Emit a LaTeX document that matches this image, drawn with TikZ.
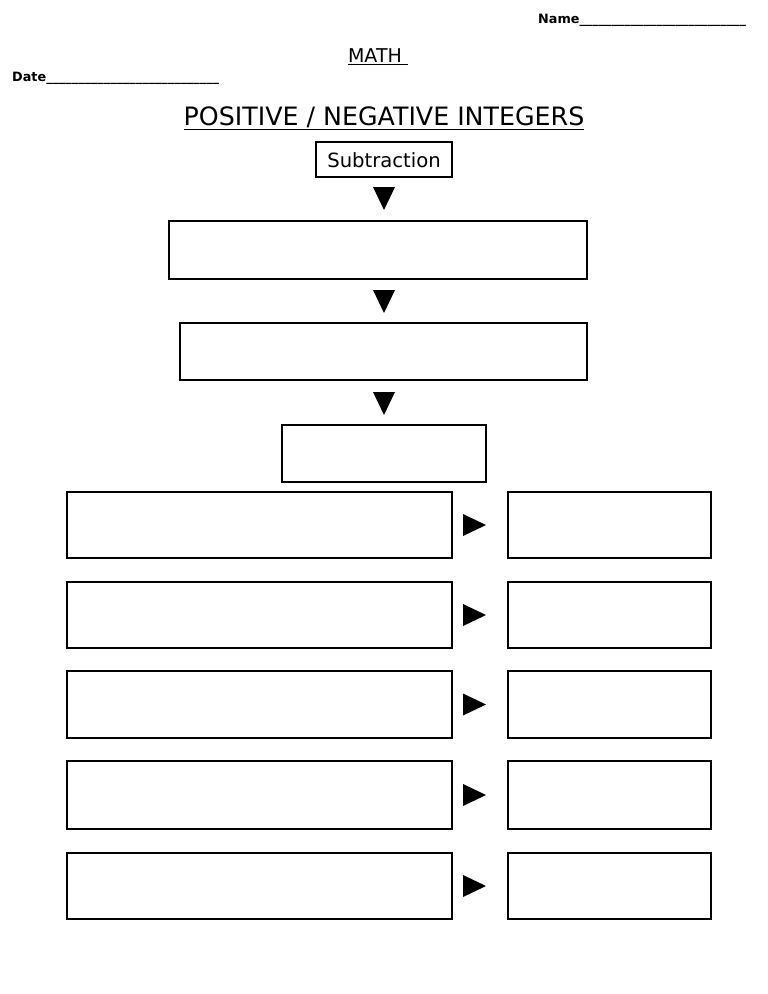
\documentclass[tikz,border=0pt]{standalone}
\usepackage{fontspec}
\setmainfont{DejaVu Sans}
\begin{document}
\begin{tikzpicture}[x=1pt,y=-1pt,
  box/.style={draw,line width=2.6pt},
  tri/.style={fill=black},
  lab/.style={inner sep=0pt}]
\useasboundingbox (0,0) rectangle (768,994);
\node[lab,anchor=west,font=\bfseries\fontsize{12.8}{14}\selectfont] (name) at (538,20) {Name\_\_\_\_\_\_\_\_\_\_\_\_\_\_\_\_\_\_\_\_\_\_\_\_\_\_};
\node[lab,font=\fontsize{19}{22}\selectfont] (math) at (378,57) {\underline{MATH\ }};
\node[lab,anchor=west,font=\bfseries\fontsize{12.8}{14}\selectfont] (date) at (12,78) {Date\_\_\_\_\_\_\_\_\_\_\_\_\_\_\_\_\_\_\_\_\_\_\_\_\_\_\_};
\node[lab,font=\fontsize{25.3}{28}\selectfont] (title) at (384,118) {\underline{POSITIVE / NEGATIVE INTEGERS}};
\draw[box] (316,142) rectangle (452,177);
\node[lab,font=\fontsize{19.6}{22}\selectfont] (sub) at (384,160) {Subtraction};
\draw[box] (169,221) rectangle (587,279);
\draw[box] (180,323) rectangle (587,380);
\draw[box] (282,425) rectangle (486,482);
\foreach \y in {187,290,392}
  \fill[tri] (373,\y) -- (395,\y) -- (384,\y+23) -- cycle;
\foreach \a/\b in {492/558,582/648,671/738,761/829,853/919}{
  \draw[box] (67,\a) rectangle (452,\b);
  \draw[box] (508,\a) rectangle (711,\b);
  \fill[tri] (463,{(\a+\b)/2-11}) -- (486,{(\a+\b)/2}) -- (463,{(\a+\b)/2+11}) -- cycle;
}
\end{tikzpicture}
\end{document}
